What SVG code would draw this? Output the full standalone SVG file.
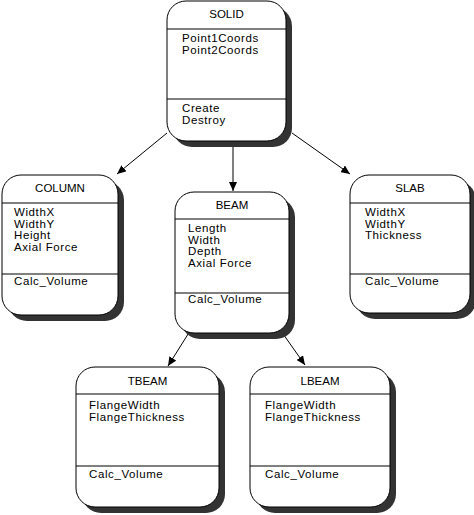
<svg xmlns="http://www.w3.org/2000/svg" width="474" height="515" viewBox="0 0 474 515">
<style>
.shadow{fill:#333333;stroke:none}
.box{fill:#ffffff;stroke:#000000;stroke-width:1}
.sep{stroke:#000000;stroke-width:1}
.conn{stroke:#000000;stroke-width:1;fill:none}
text{font-family:"Liberation Sans",Arial,sans-serif;font-size:11.5px;fill:#000000}
.title{text-anchor:middle;letter-spacing:0}
.item{letter-spacing:0.6px}
</style>
<defs>
<marker id="arrow" markerUnits="userSpaceOnUse" markerWidth="10" markerHeight="8" refX="9" refY="4" orient="auto">
<path d="M0,0 L9,4 L0,8 z" fill="#000000"/>
</marker>
</defs>
<rect width="474" height="515" fill="#ffffff"/>
<g id="connectors">
<line class="conn" x1="167" y1="133" x2="117" y2="174" marker-end="url(#arrow)"/>
<line class="conn" x1="233" y1="141" x2="233" y2="191" marker-end="url(#arrow)"/>
<line class="conn" x1="292" y1="133" x2="350" y2="174" marker-end="url(#arrow)"/>
<line class="conn" x1="190" y1="331" x2="168" y2="366" marker-end="url(#arrow)"/>
<line class="conn" x1="281" y1="331" x2="305" y2="365" marker-end="url(#arrow)"/>
</g>
<g id="solid">
<rect class="shadow" x="173" y="7" width="119" height="140" rx="19"/>
<rect class="box" x="167" y="1" width="119" height="140" rx="19"/>
<line class="sep" x1="167" y1="29" x2="286" y2="29"/>
<line class="sep" x1="167" y1="99" x2="286" y2="99"/>
<text class="title" x="226.5" y="18">SOLID</text>
<text class="item" x="182" y="42">Point1Coords</text>
<text class="item" x="182" y="53.5">Point2Coords</text>
<text class="item" x="182" y="112">Create</text>
<text class="item" x="182" y="123.5">Destroy</text>
</g>
<g id="column">
<rect class="shadow" x="8" y="181" width="116" height="140" rx="19"/>
<rect class="box" x="2" y="175" width="116" height="140" rx="19"/>
<line class="sep" x1="2" y1="203" x2="118" y2="203"/>
<line class="sep" x1="2" y1="274" x2="118" y2="274"/>
<text class="title" x="60" y="192">COLUMN</text>
<text class="item" x="14" y="216">WidthX</text>
<text class="item" x="14" y="227.5">WidthY</text>
<text class="item" x="14" y="239">Height</text>
<text class="item" x="14" y="250.5">Axial Force</text>
<text class="item" x="14" y="285">Calc_Volume</text>
</g>
<g id="beam">
<rect class="shadow" x="181" y="198" width="114" height="141" rx="19"/>
<rect class="box" x="175" y="192" width="114" height="141" rx="19"/>
<line class="sep" x1="175" y1="219" x2="289" y2="219"/>
<line class="sep" x1="175" y1="293" x2="289" y2="293"/>
<text class="title" x="232" y="209">BEAM</text>
<text class="item" x="188" y="232">Length</text>
<text class="item" x="188" y="243.5">Width</text>
<text class="item" x="188" y="255">Depth</text>
<text class="item" x="188" y="266.5">Axial Force</text>
<text class="item" x="188" y="303">Calc_Volume</text>
</g>
<g id="slab">
<rect class="shadow" x="356" y="181" width="120" height="138" rx="19"/>
<rect class="box" x="350" y="175" width="120" height="138" rx="19"/>
<line class="sep" x1="350" y1="203" x2="470" y2="203"/>
<line class="sep" x1="350" y1="274" x2="470" y2="274"/>
<text class="title" x="410" y="192">SLAB</text>
<text class="item" x="365" y="216">WidthX</text>
<text class="item" x="365" y="227.5">WidthY</text>
<text class="item" x="365" y="239">Thickness</text>
<text class="item" x="365" y="285">Calc_Volume</text>
</g>
<g id="tbeam">
<rect class="shadow" x="82" y="373" width="143" height="140" rx="19"/>
<rect class="box" x="76" y="367" width="143" height="140" rx="19"/>
<line class="sep" x1="76" y1="394" x2="219" y2="394"/>
<line class="sep" x1="76" y1="466" x2="219" y2="466"/>
<text class="title" x="147.5" y="385">TBEAM</text>
<text class="item" x="89" y="409">FlangeWidth</text>
<text class="item" x="89" y="420.5">FlangeThickness</text>
<text class="item" x="89" y="478">Calc_Volume</text>
</g>
<g id="lbeam">
<rect class="shadow" x="256" y="373" width="140" height="140" rx="19"/>
<rect class="box" x="250" y="367" width="140" height="140" rx="19"/>
<line class="sep" x1="250" y1="394" x2="390" y2="394"/>
<line class="sep" x1="250" y1="466" x2="390" y2="466"/>
<text class="title" x="320" y="385">LBEAM</text>
<text class="item" x="265" y="409">FlangeWidth</text>
<text class="item" x="265" y="420.5">FlangeThickness</text>
<text class="item" x="265" y="478">Calc_Volume</text>
</g>
</svg>
